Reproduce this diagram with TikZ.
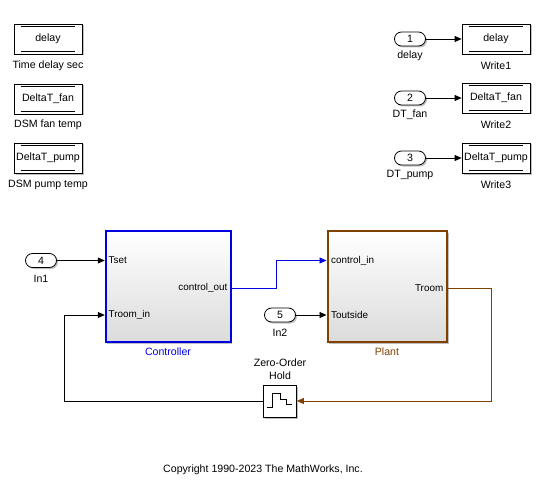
\documentclass[tikz,border=0pt]{standalone}
\usepackage{fontspec}
\setmainfont{Liberation Sans}
\usetikzlibrary{arrows.meta,shadows,calc}
\definecolor{cblue}{RGB}{0,0,225}
\definecolor{pbrown}{RGB}{128,64,0}
\begin{document}
\begin{tikzpicture}[x=1pt,y=-1pt,
  font=\fontsize{10.6}{12.5}\selectfont,
  every node/.style={inner sep=0pt},
  shad/.style={drop shadow={shadow xshift=1.5pt,shadow yshift=-1.5pt,opacity=0.25,fill=black}},
  dsm/.style={draw,fill=white,shad,minimum width=68pt,minimum height=30pt,line width=0.8pt},
  inport/.style={draw,fill=white,shad,rounded corners=7pt,minimum width=31pt,minimum height=14pt,line width=0.8pt},
  subsys/.style={line width=2.1pt,top color=white,bottom color=black!14,shad,minimum height=111pt},
  port/.style={font=\fontsize{9.9}{12}\selectfont},
  conn/.style={line width=0.8pt},
  arr/.style={conn,-{Triangle[length=7pt,width=6pt]}},
  lbl/.style={font=\fontsize{10.6}{12.5}\selectfont},
]
\useasboundingbox (0,0) rectangle (547,487);
\newcommand{\dsmlines}[1]{%
  \draw[line width=0.6pt] ($(#1.north west)+(7,3)$) -- ($(#1.north east)+(-7,3)$);
  \draw[line width=0.6pt] ($(#1.south west)+(7,-3)$) -- ($(#1.south east)+(-7,-3)$);}
% left data store memories
\node[dsm] (m1) at (48,39) {delay};
\node[dsm] (m2) at (48,99) {DeltaT\_fan};
\node[dsm] (m3) at (48,158) {DeltaT\_pump};
\dsmlines{m1}\dsmlines{m2}\dsmlines{m3}
\node[lbl] (m1l) at (48,66) {Time delay sec};
\node[lbl] (m2l) at (48,125) {DSM fan temp};
\node[lbl] (m3l) at (48,185) {DSM pump temp};
% right inports and writes
\node[inport] (i1) at (410,39) {1};
\node[inport] (i2) at (410,98) {2};
\node[inport] (i3) at (410,158) {3};
\node[lbl] (i1l) at (410,56) {delay};
\node[lbl] (i2l) at (410,115) {DT\_fan};
\node[lbl] (i3l) at (410,175) {DT\_pump};
\node[dsm] (w1) at (496,39) {delay};
\node[dsm] (w2) at (496,98) {DeltaT\_fan};
\node[dsm] (w3) at (496,158) {DeltaT\_pump};
\dsmlines{w1}\dsmlines{w2}\dsmlines{w3}
\node[lbl] (w1l) at (496,66) {Write1};
\node[lbl] (w2l) at (496,125) {Write2};
\node[lbl] (w3l) at (496,185) {Write3};
\draw[arr] (i1) -- (w1);
\draw[arr] (i2) -- (w2);
\draw[arr] (i3) -- (w3);
% controller
\node[subsys,draw=cblue,minimum width=125pt] (ctrl) at (168.3,286.5) {};
\node[lbl,text=cblue] (ctrll) at (168,352) {Controller};
\node[port,anchor=west] (tset) at (108.5,260.5) {Tset};
\node[port,anchor=west] (trin) at (108.5,315) {Troom\_in};
\node[port,anchor=east] (cout) at (227.5,288) {control\_out};
% plant
\node[subsys,draw=pbrown,minimum width=119.5pt] (plant) at (387.3,286.5) {};
\node[lbl,text=pbrown] (plantl) at (387,352) {Plant};
\node[port,anchor=west] (cin) at (331,260.5) {control\_in};
\node[port,anchor=west] (tout) at (331,315) {Toutside};
\node[port,anchor=east] (trout) at (443.5,288) {Troom};
% inports 4,5
\node[inport] (i4) at (41,260.5) {4};
\node[lbl] (i4l) at (41,279) {In1};
\node[inport] (i5) at (280,315) {5};
\node[lbl] (i5l) at (280,333) {In2};
% ZOH
\node[draw,fill=white,shad,minimum width=33pt,minimum height=32pt,line width=0.8pt] (zoh) at (280,401) {};
\draw[line width=0.7pt] ($(zoh.center)+(-13.5,6.5)$) -- ++(5.5,0) -- ++(0,-14.5) -- ++(8.5,0) -- ++(0,6) -- ++(5.5,0) -- ++(0,5.5) -- ++(5.5,0);
\node[lbl,align=center] (zohl) at (280,369) {Zero-Order\\Hold};
% connectors
\draw[arr] (i4) -- (i4 -| ctrl.west);
\draw[arr] (i5) -- (i5 -| plant.west);
\draw[arr,cblue] (ctrl.east |- cout) -- ++(45,0) |- (plant.west |- cin);
\coordinate (fbR) at (491,401);
\coordinate (fbL) at (64,401);
\draw[arr,pbrown] (plant.east |- trout) -| (fbR) -- (zoh.east);
\draw[arr] (zoh.west) -- (fbL) |- (ctrl.west |- trin);
% copyright
\node[lbl] (copy) at (263,470) {Copyright 1990-2023 The MathWorks, Inc.};
\end{tikzpicture}
\end{document}
